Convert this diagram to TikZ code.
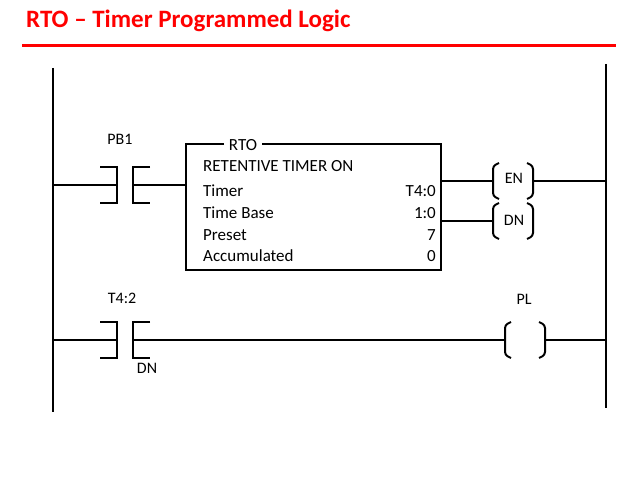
\documentclass[tikz,border=0pt]{standalone}
\usepackage{fontspec}
\setmainfont{Carlito}
\begin{document}
\begin{tikzpicture}[x=1pt,y=-1pt,
  wire/.style={line width=2pt,black},
  lbl/.style={font=\fontsize{16}{18}\selectfont,inner sep=0pt},
  boxtxt/.style={font=\fontsize{17}{19}\selectfont,inner sep=0pt}]
\useasboundingbox (0,0) rectangle (638,478);
\node[anchor=west,text=red,font=\fontsize{25}{28}\selectfont\bfseries,inner sep=0pt] (title) at (26,21) {RTO – Timer Programmed Logic};
\draw[red,line width=3pt] (22,46) coordinate (t1) -- (616,46) coordinate (t2);
% rails
\draw[wire] (53,68) coordinate (l1) -- (53,412) coordinate (l2);
\draw[wire] (606,64) coordinate (r1) -- (606,408) coordinate (r2);
\tikzset{contact/.pic={
  \draw[wire] (-17,-18) -- (0,-18) -- (0,18) -- (-17,18);
  \draw[wire] (33,-18) -- (16,-18) -- (16,18) -- (33,18);
  \coordinate (-L) at (0,0); \coordinate (-R) at (16,0);},
  coil/.pic={
  \draw[wire,rounded corners=3pt] (7,-18) -- (1,-15) -- (1,15) -- (7,18);
  \draw[wire,rounded corners=3pt] (35,-18) -- (41,-15) -- (41,15) -- (35,18);
  \coordinate (-L) at (1,0); \coordinate (-R) at (41,0);}}
% rung 1
\pic (c1) at (117,185) {contact};
\node[lbl] (pb1) at (120,139) {PB1};
\draw[wire] (l1 |- c1-L) -- (c1-L);
\draw[wire] (c1-R) -- (186,185) coordinate (bin);
\draw[wire] (224,144) -- (186,144) -- (186,270) -- (441,270) -- (441,144) -- (262,144);
\node[boxtxt] (rto) at (243,145) {RTO};
\node[boxtxt,anchor=west] (n0) at (203,166) {RETENTIVE TIMER ON};
\node[boxtxt,anchor=west] (n1) at (203,191) {Timer};
\node[boxtxt,anchor=west] (n2) at (203,213) {Time Base};
\node[boxtxt,anchor=west] (n3) at (203,235) {Preset};
\node[boxtxt,anchor=west] (n4) at (203,256) {Accumulated};
\node[boxtxt,anchor=east] (v1) at (436,191) {T4:0};
\node[boxtxt,anchor=east] (v2) at (436,213) {1:0};
\node[boxtxt,anchor=east] (v3) at (436,235) {7};
\node[boxtxt,anchor=east] (v4) at (436,256) {0};
\pic (en) at (492,181) {coil};
\pic (dn) at (492,221) {coil};
\node[lbl] (ent) at (514,178) {EN};
\node[lbl] (dnt) at (514,220) {DN};
\draw[wire] (441,181) -- (en-L);
\draw[wire] (en-R) -- (r1 |- en-R);
\draw[wire] (441,221) -- (dn-L);
% rung 2
\pic (c2) at (117,340) {contact};
\node[lbl] (t42) at (122,298) {T4:2};
\node[lbl] (dn2) at (147,368) {DN};
\pic (pl) at (504,340) {coil};
\node[lbl] (plt) at (524,299) {PL};
\draw[wire] (l1 |- c2-L) -- (c2-L);
\draw[wire] (c2-R) -- (pl-L);
\draw[wire] (pl-R) -- (r1 |- pl-R);
\end{tikzpicture}
\end{document}
